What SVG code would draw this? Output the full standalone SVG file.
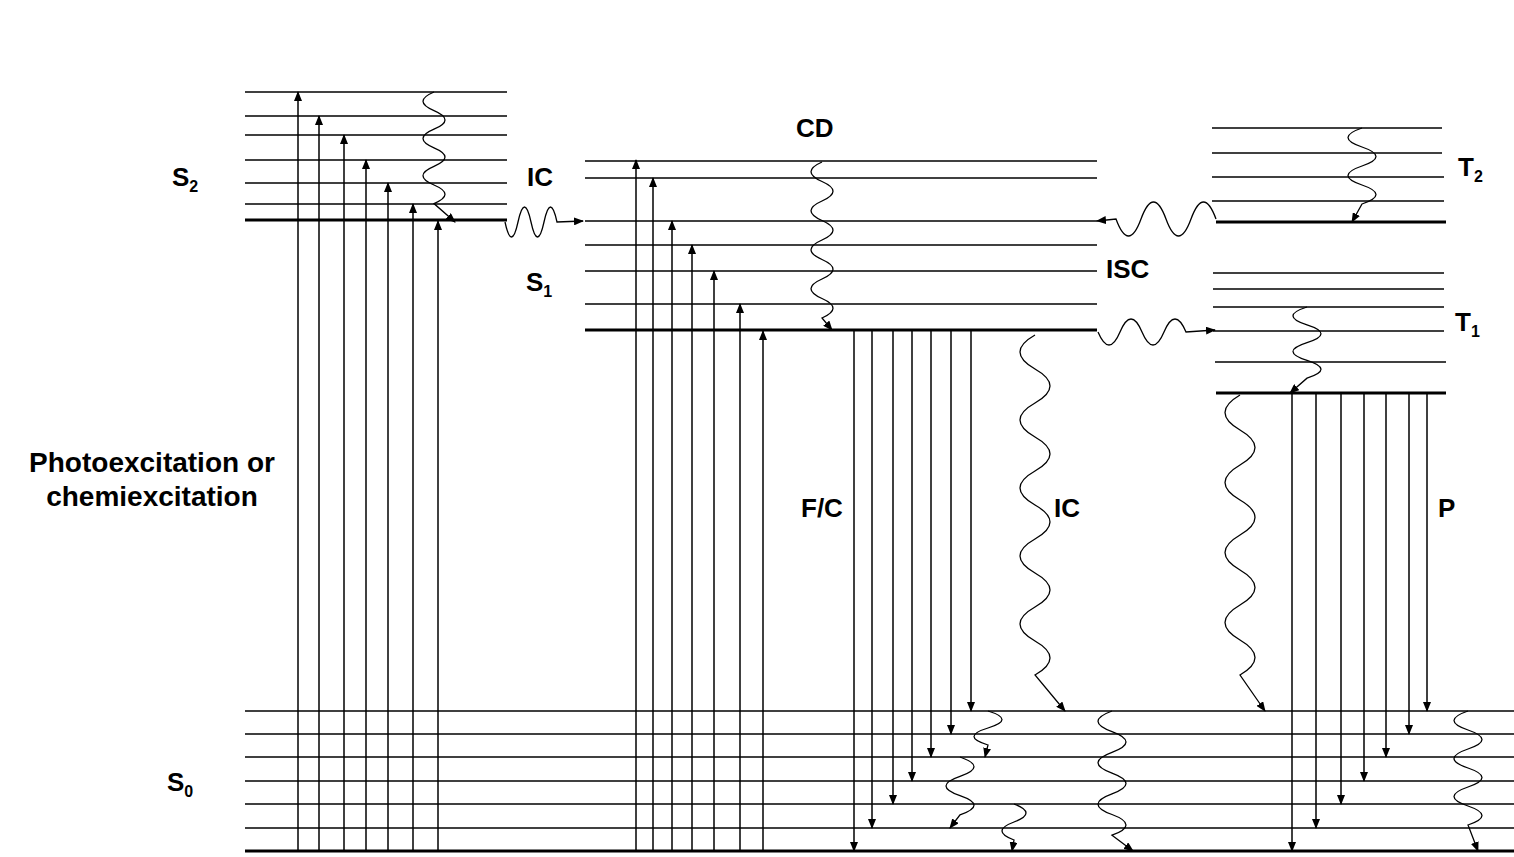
<svg xmlns="http://www.w3.org/2000/svg" width="1514" height="857" viewBox="0 0 1514 857">
<defs>
<marker id="ah" markerUnits="userSpaceOnUse" markerWidth="10" markerHeight="8" refX="9" refY="4" orient="auto"><path d="M0,0 L10,4 L0,8 z" fill="#000"/></marker>
<style>
.l{stroke:#000;stroke-width:1.3}
.b{stroke:#000;stroke-width:3}
.a{stroke:#000;stroke-width:1.5;fill:none;marker-end:url(#ah)}
.w{stroke:#000;stroke-width:1.3;fill:none;marker-end:url(#ah)}
text{font-family:"Liberation Sans",Arial,sans-serif;font-weight:bold;font-size:26px;fill:#000}
.s{font-size:16px}
.p{font-size:28px}
</style>
</defs>
<rect width="1514" height="857" fill="#fff"/>
<g id="S2">
<line class="l" x1="245" y1="92" x2="507" y2="92"/><line class="l" x1="245" y1="116" x2="507" y2="116"/><line class="l" x1="245" y1="135" x2="507" y2="135"/><line class="l" x1="245" y1="160" x2="507" y2="160"/><line class="l" x1="245" y1="183" x2="507" y2="183"/><line class="l" x1="245" y1="204" x2="507" y2="204"/><line class="b" x1="245" y1="220" x2="507" y2="220"/>
<text x="172" y="186">S<tspan class="s" dy="6">2</tspan></text>
</g>
<g id="S1">
<line class="l" x1="585" y1="161" x2="1097" y2="161"/><line class="l" x1="585" y1="178" x2="1097" y2="178"/><line class="l" x1="585" y1="221" x2="1097" y2="221"/><line class="l" x1="585" y1="245" x2="1097" y2="245"/><line class="l" x1="585" y1="271" x2="1097" y2="271"/><line class="l" x1="585" y1="304" x2="1097" y2="304"/><line class="b" x1="585" y1="330" x2="1097" y2="330"/>
<text x="526" y="291">S<tspan class="s" dy="6">1</tspan></text>
</g>
<g id="T2">
<line class="l" x1="1212" y1="128" x2="1442" y2="128"/><line class="l" x1="1212" y1="153" x2="1442" y2="153"/><line class="l" x1="1212" y1="177" x2="1444" y2="177"/><line class="l" x1="1212" y1="201" x2="1444" y2="201"/><line class="b" x1="1216" y1="222" x2="1446" y2="222"/>
<text x="1458" y="176">T<tspan class="s" dy="6">2</tspan></text>
</g>
<g id="T1">
<line class="l" x1="1213" y1="273" x2="1444" y2="273"/><line class="l" x1="1213" y1="289" x2="1444" y2="289"/><line class="l" x1="1213" y1="307" x2="1444" y2="307"/><line class="l" x1="1213" y1="331" x2="1444" y2="331"/><line class="l" x1="1215" y1="362" x2="1446" y2="362"/><line class="b" x1="1216" y1="393" x2="1446" y2="393"/>
<text x="1455" y="331">T<tspan class="s" dy="6">1</tspan></text>
</g>
<g id="S0">
<line class="l" x1="245" y1="711" x2="1514" y2="711"/><line class="l" x1="245" y1="734" x2="1514" y2="734"/><line class="l" x1="245" y1="757" x2="1514" y2="757"/><line class="l" x1="245" y1="781" x2="1514" y2="781"/><line class="l" x1="245" y1="804" x2="1514" y2="804"/><line class="l" x1="245" y1="828" x2="1514" y2="828"/><line class="b" x1="245" y1="851" x2="1514" y2="851"/>
<text x="167" y="791">S<tspan class="s" dy="6">0</tspan></text>
</g>
<g id="labels">
<text class="p" x="152" y="472" text-anchor="middle">Photoexcitation or</text>
<text class="p" x="152" y="506" text-anchor="middle">chemiexcitation</text>
<text x="527" y="186">IC</text>
<text x="796" y="137">CD</text>
<text x="1106" y="278">ISC</text>
<text x="801" y="517">F/C</text>
<text x="1054" y="517">IC</text>
<text x="1438" y="517">P</text>
</g>
<g id="connectors">
<path class="a" d="M298 851V92"/><path class="a" d="M319 851V116"/><path class="a" d="M344 851V135"/><path class="a" d="M366 851V160"/><path class="a" d="M388 851V183"/><path class="a" d="M413 851V204"/><path class="a" d="M438 851V221"/>
<path class="a" d="M636 851V160"/><path class="a" d="M653 851V178"/><path class="a" d="M672 851V221"/><path class="a" d="M692 851V245"/><path class="a" d="M714 851V271"/><path class="a" d="M740 851V304"/><path class="a" d="M763 851V331"/>
<path class="a" d="M854 330V851"/><path class="a" d="M872 330V828"/><path class="a" d="M893 330V804"/><path class="a" d="M912 330V781"/><path class="a" d="M931 330V757"/><path class="a" d="M951 330V734"/><path class="a" d="M971 330V711"/>
<path class="a" d="M1292 393V851"/><path class="a" d="M1316 393V828"/><path class="a" d="M1341 393V804"/><path class="a" d="M1364 393V781"/><path class="a" d="M1386 393V757"/><path class="a" d="M1409 393V734"/><path class="a" d="M1427 393V711"/>
<path class="w" d="M434 92q-22 9.3 0 18.6t0 18.6t0 18.6t0 18.6t0 18.6t0 18.6L455 222"/>
<path class="w" d="M505 222q6.5 30 13 0t13 0t13 0t13 0L583 221"/>
<path class="w" d="M822 162q-22 9.75 0 19.5t0 19.5t0 19.5t0 19.5t0 19.5t0 19.5t0 19.5t0 19.5L832 330"/>
<path class="w" d="M1035 335q-30 17 0 34t0 34t0 34t0 34t0 34t0 34t0 34t0 34t0 34t0 34L1065 711"/>
<path class="w" d="M1216 219q-12.5 -34 -25 0t-25 0t-25 0t-25 0L1097 221"/>
<path class="w" d="M1098 332q11 26 22 0t22 0t22 0t22 0L1215 330"/>
<path class="w" d="M1362 128q-28 9.5 0 19t0 19t0 19t0 19L1352 222"/>
<path class="w" d="M1307 307q-28 8.9 0 17.8t0 17.8t0 17.8t0 17.8L1290 393"/>
<path class="w" d="M1240 395q-30 17.5 0 35t0 35t0 35t0 35t0 35t0 35t0 35t0 35L1265 711"/>
<path class="w" d="M988 711q28 8.5 0 17t0 17L985 757"/>
<path class="w" d="M960 757q28 9.7 0 19.3t0 19.3t0 19.3L950 828"/>
<path class="w" d="M1014 804q24 9 0 18t0 18L1012 851"/>
<path class="w" d="M1112 711q-28 10.3 0 20.7t0 20.7t0 20.7t0 20.7t0 20.7t0 20.7L1133 851"/>
<path class="w" d="M1468 711q-28 9.5 0 19t0 19t0 19t0 19t0 19t0 19L1478 851"/>
</g>
</svg>
